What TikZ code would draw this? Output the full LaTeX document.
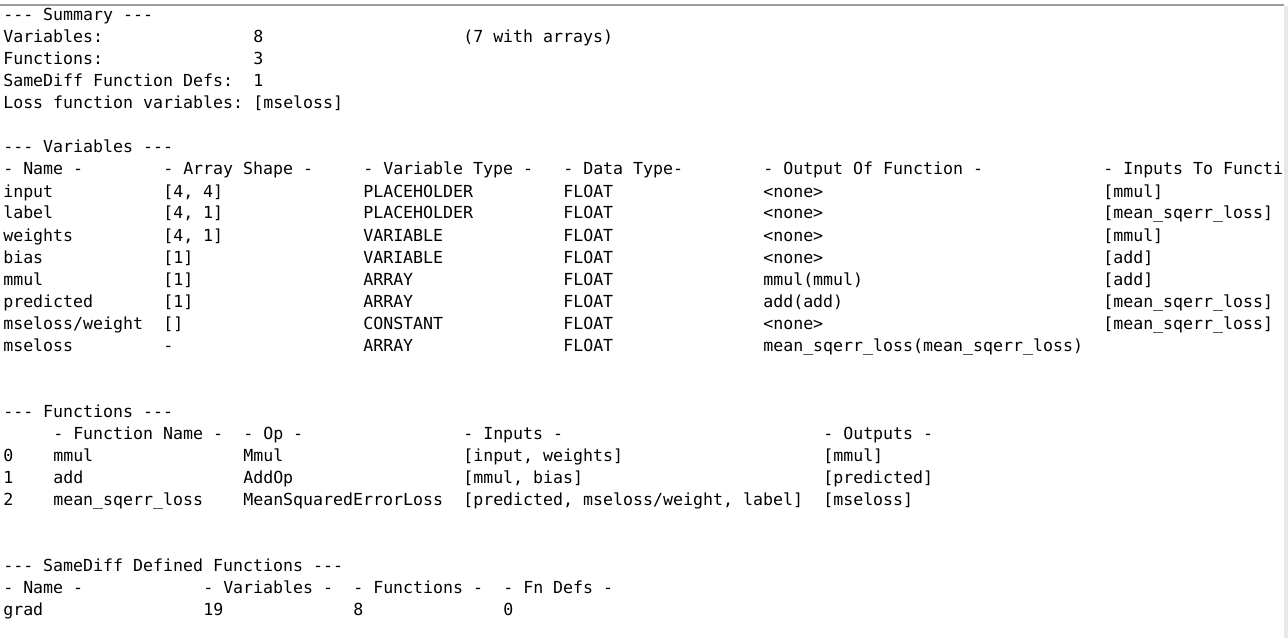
\documentclass[tikz,border=0pt]{standalone}
\usepackage{fontspec}
\setmonofont{DejaVu Sans Mono}
\begin{document}
\begin{tikzpicture}[x=0.75pt,y=-0.75pt,
  txt/.style={font=\ttfamily\fontsize{12.45}{15}\selectfont, anchor=base west, inner sep=0pt}]
  % Frame
  \useasboundingbox (0,0) rectangle (1288,638);
  \fill[white] (0,0) rectangle (1288,638);
  \draw[line width=0.9pt, black!38] (0,5) -- (1284,5);
  \fill[black!9] (1284,6) rectangle (1288,638);

  \begin{scope}
    \clip (0,6) rectangle (1283.5,638);

    % Summary
    \node[txt] (sum-title) at (3,21) {--- Summary ---};
    \node[txt] (sum-vars) at (3,43) {Variables:};
    \node[txt] (sum-vars-n) at (253,43) {8};
    \node[txt] (sum-vars-arr) at (463,43) {(7 with arrays)};
    \node[txt] (sum-fns) at (3,65) {Functions:};
    \node[txt] (sum-fns-n) at (253,65) {3};
    \node[txt] (sum-defs) at (3,87) {SameDiff Function Defs:};
    \node[txt] (sum-defs-n) at (253,87) {1};
    \node[txt] (sum-loss) at (3,109) {Loss function variables:};
    \node[txt] (sum-loss-v) at (253,109) {[mseloss]};

    % Variables
    \node[txt] (var-title) at (3,153) {--- Variables ---};
    \node[txt] (var-h-name) at (3,175) {- Name -};
    \node[txt] (var-h-shape) at (163,175) {- Array Shape -};
    \node[txt] (var-h-vtype) at (363,175) {- Variable Type -};
    \node[txt] (var-h-dtype) at (563,175) {- Data Type-};
    \node[txt] (var-h-out) at (763,175) {- Output Of Function -};
    \node[txt] (var-h-in) at (1103,175) {- Inputs To Functi};
    \foreach \name/\shape/\vtype/\outfn/\infn [count=\i from 8] in {
        input/{[4, 4]}/PLACEHOLDER/<none>/[mmul],
        label/{[4, 1]}/PLACEHOLDER/<none>/[mean\_sqerr\_loss],
        weights/{[4, 1]}/VARIABLE/<none>/[mmul],
        bias/[1]/VARIABLE/<none>/[add],
        mmul/[1]/ARRAY/mmul(mmul)/[add],
        predicted/[1]/ARRAY/add(add)/[mean\_sqerr\_loss],
        {mseloss/weight}/[]/CONSTANT/<none>/[mean\_sqerr\_loss],
        mseloss/-/ARRAY/mean\_sqerr\_loss(mean\_sqerr\_loss)/{}} {
      \node[txt] (var-\i-name) at (3,{21+22*\i}) {\name};
      \node[txt] (var-\i-shape) at (163,{21+22*\i}) {\shape};
      \node[txt] (var-\i-vtype) at (363,{21+22*\i}) {\vtype};
      \node[txt] (var-\i-dtype) at (563,{21+22*\i}) {FLOAT};
      \node[txt] (var-\i-out) at (763,{21+22*\i}) {\outfn};
      \node[txt] (var-\i-in) at (1103,{21+22*\i}) {\infn};
    }

    % Functions
    \node[txt] (fn-title) at (3,417) {--- Functions ---};
    \node[txt] (fn-h-name) at (53,439) {- Function Name -};
    \node[txt] (fn-h-op) at (243,439) {- Op -};
    \node[txt] (fn-h-in) at (463,439) {- Inputs -};
    \node[txt] (fn-h-out) at (823,439) {- Outputs -};
    \foreach \name/\op/\ins/\outs [count=\i from 0] in {
        mmul/Mmul/{[input, weights]}/[mmul],
        add/AddOp/{[mmul, bias]}/[predicted],
        mean\_sqerr\_loss/MeanSquaredErrorLoss/{[predicted, mseloss/weight, label]}/[mseloss]} {
      \node[txt] (fn-\i-idx) at (3,{461+22*\i}) {\i};
      \node[txt] (fn-\i-name) at (53,{461+22*\i}) {\name};
      \node[txt] (fn-\i-op) at (243,{461+22*\i}) {\op};
      \node[txt] (fn-\i-in) at (463,{461+22*\i}) {\ins};
      \node[txt] (fn-\i-out) at (823,{461+22*\i}) {\outs};
    }

    % SameDiff defined functions
    \node[txt] (def-title) at (3,571) {--- SameDiff Defined Functions ---};
    \node[txt] (def-h-name) at (3,593) {- Name -};
    \node[txt] (def-h-vars) at (203,593) {- Variables -};
    \node[txt] (def-h-fns) at (353,593) {- Functions -};
    \node[txt] (def-h-defs) at (503,593) {- Fn Defs -};
    \node[txt] (def-name) at (3,615) {grad};
    \node[txt] (def-vars) at (203,615) {19};
    \node[txt] (def-fns) at (353,615) {8};
    \node[txt] (def-defs) at (503,615) {0};
  \end{scope}
\end{tikzpicture}
\end{document}
